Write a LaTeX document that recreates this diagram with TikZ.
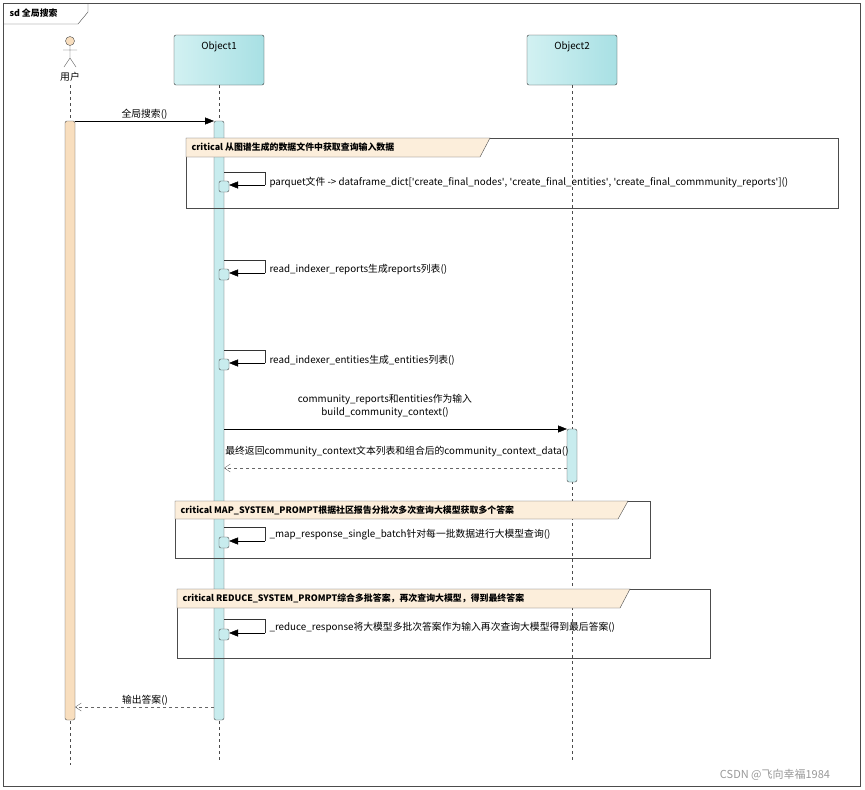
\documentclass[tikz,border=0pt]{standalone}
\usepackage{fontspec}
\setmainfont{Noto Sans CJK SC}
\newfontfamily\lat{DejaVu Sans}
\newcommand{\q}{{\lat\char39}}
\usetikzlibrary{arrows.meta}
\definecolor{actc}{HTML}{C8ECEE}
\definecolor{objl}{HTML}{D2F1F2}
\definecolor{objr}{HTML}{A8E0E4}
\definecolor{usrc}{HTML}{F8DEBE}
\definecolor{hdr}{HTML}{FCEEDB}
\begin{document}
\begin{tikzpicture}[x=1pt,y=-1pt,font=\fontsize{9.8}{11}\selectfont,
  obj/.style={draw=black!80,rounded corners=2pt,left color=objl,right color=objr,inner sep=0},
  act/.style={draw=black!70,fill=actc,rounded corners=2pt},
  life/.style={dashed,black!70},
  msg/.style={-{Triangle[length=9pt,width=7pt]}},
  ret/.style={dashed,black!60,-{Straight Barb[length=6pt,width=8pt]}},
  lbl/.style={inner sep=1pt},
  crit/.style={draw=black!70},
  hfont/.style={font=\fontsize{8.9}{10}\selectfont\bfseries},
  tabs/.style={draw=black!70,fill=hdr}]
\useasboundingbox (0,0) rectangle (865,790);
\fill[white] (0,0) rectangle (865,790);
\draw[black!70] (3,3) rectangle (860,786);
\draw[black!70] (3,24) -- (78,24) -- (88,12) -- (88,3);
\node[anchor=west,hfont] (sd) at (6,13) {sd 全局搜索};
% actor
\draw[fill=usrc,draw=black!70] (70,41) circle (4.5);
\draw[black!70] (70,45.5) -- (70,58) (63,50) -- (77,50) (64,67) -- (70,58) -- (76,67);
\node (user) at (70,77) {用户};
\coordinate (ul0) at (70,85); \coordinate (ul1) at (70,765);
\draw[life] (ul0) -- (ul1);
% objects
\node[obj,minimum width=90pt,minimum height=50pt] (o1) at (219,60) {};
\node[anchor=north] at (219,38) {Object1};
\node[obj,minimum width=90pt,minimum height=50pt] (o2) at (572,60) {};
\node[anchor=north] at (572,38) {Object2};
\coordinate (o1e) at (219,760); \coordinate (o2e) at (572,760);
\draw[life] (o1.south) -- (o1e);
\draw[life] (o2.south) -- (o2e);
% activations
\draw[draw=black!70,fill=usrc,rounded corners=2pt] (65,121) rectangle (75,720);
\draw[act] (214,121) rectangle (224,720);
\draw[act] (567,429) rectangle (577,482);
\coordinate (m1a) at (75,121); \coordinate (m1b) at (214,121);
\draw[msg] (m1a) -- node[lbl,above,pos=0.5]{全局搜索()} (m1b);
% critical 1
\draw[crit] (186,138) rectangle (838,208);
\draw[tabs] (186,138) -- (490,138) -- (480,157) -- (186,157) -- cycle;
\node[anchor=west,hfont] (c1) at (188,147.5) {critical 从图谱生成的数据文件中获取查询输入数据};
\foreach \y/\t in {172/{parquet文件 -> dataframe\_dict[\q create\_final\_nodes\q, \q create\_final\_entities\q, \q create\_final\_commmunity\_reports\q]()},
                   260/{read\_indexer\_reports生成reports列表()},
                   350/{read\_indexer\_entities生成\_entities列表()}}{
  \draw[black!80] (224,\y) -- (265,\y) -- (265,\y+13);
  \draw[msg] (265,\y+13) -- (229,\y+13);
  \draw[act] (219,\y+9) rectangle (229,\y+20);
  \node[anchor=west] at (266,\y+10) {\t};
}
\coordinate (m2a) at (224,429); \coordinate (m2b) at (567,429);
\draw[msg] (m2a) -- (m2b);
\node[align=center,font=\fontsize{9.8}{13}\selectfont] (m2l) at (385,406) {community\_reports和entities作为输入\\build\_community\_context()};
\coordinate (r1a) at (567,468); \coordinate (r1b) at (224,468);
\draw[ret] (r1a) -- (r1b);
\node (r1l) at (397,451) {最终返回community\_context文本列表和组合后的community\_context\_data()};
% critical 2
\draw[crit] (175,501) rectangle (650,558);
\draw[tabs] (175,501) -- (628,501) -- (618,519) -- (175,519) -- cycle;
\node[anchor=west,hfont] (c2) at (177,510) {critical MAP\_SYSTEM\_PROMPT根据社区报告分批次多次查询大模型获取多个答案};
% critical 3
\draw[crit] (177,589) rectangle (710,658);
\draw[tabs] (177,589) -- (630,589) -- (620,608) -- (177,608) -- cycle;
\node[anchor=west,hfont] (c3) at (179,598.5) {critical REDUCE\_SYSTEM\_PROMPT综合多批答案，再次查询大模型，得到最终答案};
\foreach \y/\t in {527/{\_map\_response\_single\_batch针对每一批数据进行大模型查询()},
                   619/{\_reduce\_response将大模型多批次答案作为输入再次查询大模型得到最后答案()}}{
  \draw[black!80] (224,\y) -- (265,\y) -- (265,\y+14);
  \draw[msg] (265,\y+14) -- (229,\y+14);
  \draw[act] (219,\y+10) rectangle (229,\y+21);
  \node[anchor=west] at (266,\y+8) {\t};
}
\coordinate (r2a) at (214,707); \coordinate (r2b) at (75,707);
\draw[ret] (r2a) -- (r2b);
\node (r2l) at (145,700) {输出答案()};
\node[text=black!40,font=\fontsize{11}{12}\selectfont] (wm) at (775,775) {CSDN @飞向幸福1984};
\end{tikzpicture}
\end{document}
